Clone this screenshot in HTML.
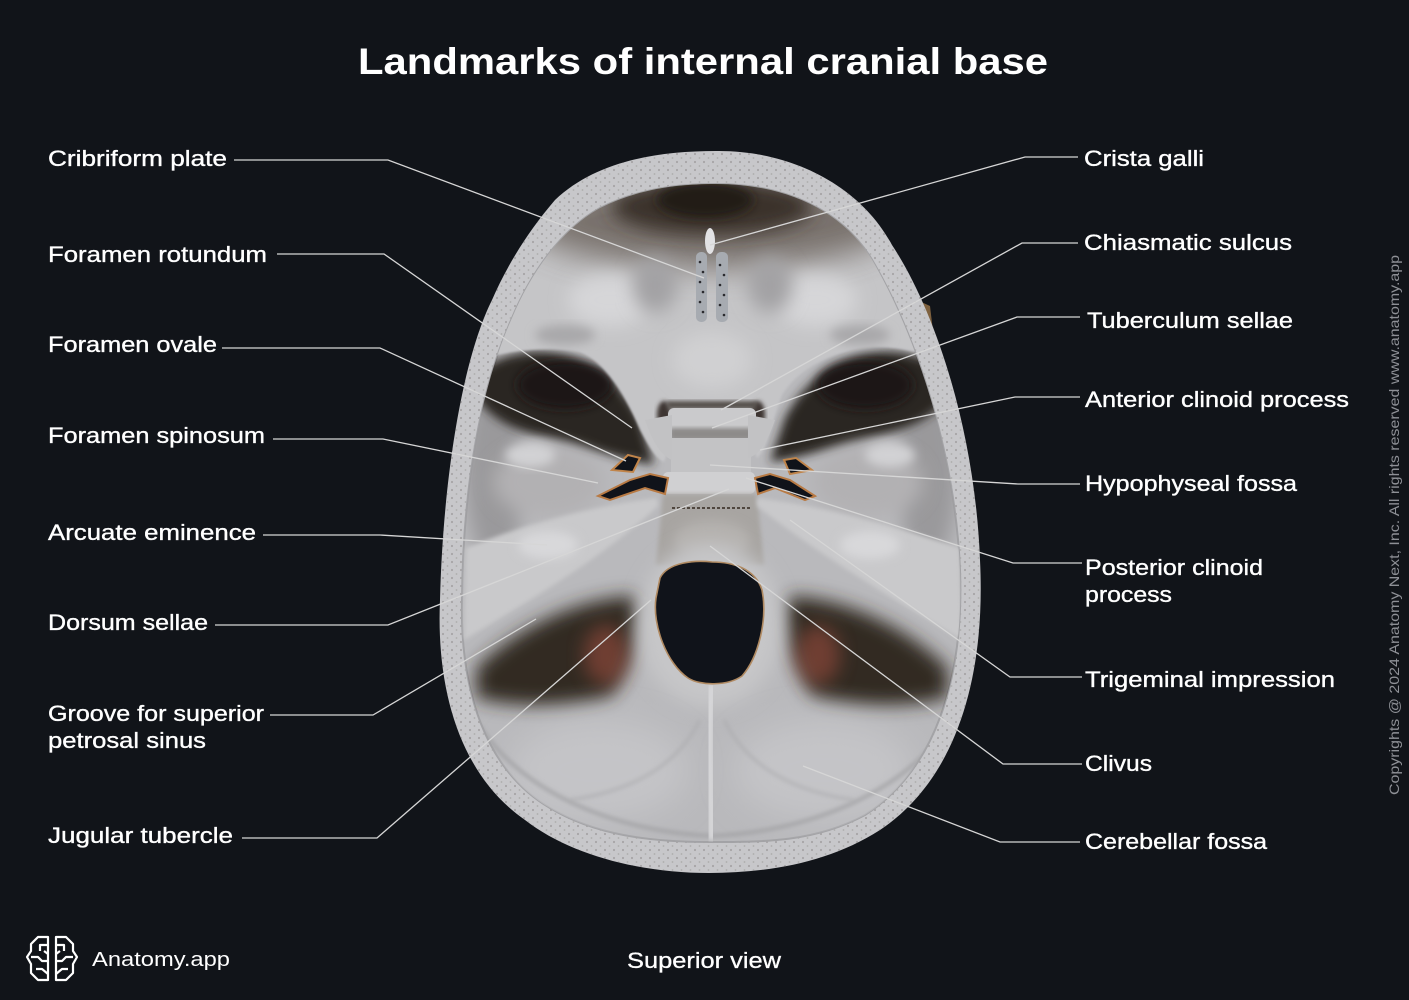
<!DOCTYPE html>
<html><head><meta charset="utf-8"><style>
html,body{margin:0;padding:0;background:#111419;}
svg{display:block;}
text{font-family:"Liberation Sans","DejaVu Sans",sans-serif;}
</style></head><body>
<svg width="1409" height="1000" viewBox="0 0 1409 1000" xmlns="http://www.w3.org/2000/svg">
<defs>
<filter id="b1" x="-20%" y="-20%" width="140%" height="140%"><feGaussianBlur stdDeviation="1"/></filter>
<filter id="b2" x="-20%" y="-20%" width="140%" height="140%"><feGaussianBlur stdDeviation="2"/></filter>
<filter id="b5" x="-30%" y="-30%" width="160%" height="160%"><feGaussianBlur stdDeviation="5"/></filter>
<filter id="b9" x="-40%" y="-40%" width="180%" height="180%"><feGaussianBlur stdDeviation="9"/></filter>
<filter id="b16" x="-50%" y="-50%" width="200%" height="200%"><feGaussianBlur stdDeviation="16"/></filter>
<pattern id="dots" width="9" height="8" patternUnits="userSpaceOnUse"><circle cx="2" cy="2" r="1.1" fill="#7f7b79"/><circle cx="6.5" cy="6" r="0.9" fill="#8e8a88"/></pattern>
<clipPath id="cav"><path d="M716 184 C785 184,845 210,875 265 C915 335,955 450,960 570 C964 680,935 770,865 815 C815 842,765 842,709 842 C650 842,595 835,550 808 C485 770,460 690,462 600 C463 480,482 385,512 318 C530 275,560 230,600 208 C640 188,680 184,716 184 Z"/></clipPath>
</defs>
<rect width="1409" height="1000" fill="#111419"/>

<!-- title -->
<text x="358" y="74" font-size="37" font-weight="bold" fill="#ffffff" textLength="690" lengthAdjust="spacingAndGlyphs">Landmarks of internal cranial base</text>

<!-- orange bits outside skull -->
<path d="M484 330 L496 322 L500 372 L490 460 L482 455 Z" fill="#8a6a48" opacity="0.8"/>
<path d="M917 300 L930 306 L946 440 L937 445 Z" fill="#9a7448" opacity="0.8"/>

<!-- skull outer -->
<path id="outer" d="M716 151 C790 150,860 185,892 245 C935 310,975 430,980 560 C986 680,955 780,880 830 C830 862,770 873,709 873 C640 873,570 855,525 820 C460 775,436 690,440 600 C443 480,462 360,492 300 C505 270,525 235,555 200 C595 162,655 151,716 151 Z" fill="#c7c7ca"/>
<path d="M716 151 C790 150,860 185,892 245 C935 310,975 430,980 560 C986 680,955 780,880 830 C830 862,770 873,709 873 C640 873,570 855,525 820 C460 775,436 690,440 600 C443 480,462 360,492 300 C505 270,525 235,555 200 C595 162,655 151,716 151 Z" fill="url(#dots)" opacity="0.45"/>
<!-- inner cavity base -->
<path d="M716 184 C785 184,845 210,875 265 C915 335,955 450,960 570 C964 680,935 770,865 815 C815 842,765 842,709 842 C650 842,595 835,550 808 C485 770,460 690,462 600 C463 480,482 385,512 318 C530 275,560 230,600 208 C640 188,680 184,716 184 Z" fill="#b9b9bc" stroke="#a3a3a6" stroke-width="2"/>

<g clip-path="url(#cav)">
  <!-- middle fossa side gray -->
  <ellipse cx="495" cy="470" rx="30" ry="95" fill="#9a999b" filter="url(#b9)"/>
  <ellipse cx="928" cy="470" rx="30" ry="95" fill="#9a999b" filter="url(#b9)"/>
  <!-- middle fossa darks -->
  <path d="M478 372 C520 338,600 342,640 418 L654 465 C615 458,580 445,540 436 C505 428,485 412,476 396 Z" fill="#2c2520" filter="url(#b5)"/>
  <ellipse cx="565" cy="385" rx="48" ry="24" fill="#1f1915" filter="url(#b5)"/>
  <path d="M947 372 C905 338,825 342,785 418 L770 462 C810 456,845 443,885 434 C920 426,940 410,949 395 Z" fill="#2c2520" filter="url(#b5)"/>
  <ellipse cx="865" cy="385" rx="48" ry="24" fill="#1f1915" filter="url(#b5)"/>
  <!-- middle fossa floors -->
  <ellipse cx="548" cy="482" rx="55" ry="35" fill="#b2b1b3" filter="url(#b9)"/>
  <ellipse cx="868" cy="482" rx="55" ry="35" fill="#b2b1b3" filter="url(#b9)"/>
  <ellipse cx="530" cy="455" rx="25" ry="12" fill="#d2d2d4" filter="url(#b5)"/>
  <ellipse cx="890" cy="455" rx="25" ry="12" fill="#d2d2d4" filter="url(#b5)"/>

  <!-- anterior fossa floor -->
  <path d="M455 395 L470 362 C500 352,545 345,580 352 C605 362,625 395,640 430 C648 445,655 458,664 462 C670 450,666 430,670 412 C690 405,735 405,754 412 C758 430,752 450,757 458 C767 450,772 420,782 395 C797 370,832 350,872 347 C902 346,927 355,955 365 L960 150 L455 150 Z" fill="#c5c5c7" filter="url(#b1)"/>
  <!-- top dark -->
  <ellipse cx="712" cy="222" rx="185" ry="45" fill="#6a625b" filter="url(#b16)" opacity="0.85"/>
  <ellipse cx="712" cy="207" rx="100" ry="28" fill="#3a322c" filter="url(#b9)"/>
  <ellipse cx="705" cy="200" rx="48" ry="18" fill="#231d19" filter="url(#b5)"/>
  <!-- orbital bumps -->
  <ellipse cx="610" cy="300" rx="42" ry="26" fill="#d6d6d8" filter="url(#b9)"/>
  <ellipse cx="815" cy="300" rx="42" ry="26" fill="#d6d6d8" filter="url(#b9)"/>
  <ellipse cx="655" cy="285" rx="22" ry="28" fill="#a3a2a4" filter="url(#b9)"/>
  <ellipse cx="770" cy="285" rx="22" ry="28" fill="#a3a2a4" filter="url(#b9)"/>
  <ellipse cx="565" cy="335" rx="30" ry="10" fill="#a9a8aa" filter="url(#b5)"/>
  <ellipse cx="860" cy="335" rx="30" ry="10" fill="#a9a8aa" filter="url(#b5)"/>
  <ellipse cx="712" cy="360" rx="40" ry="28" fill="#d0d0d2" filter="url(#b9)"/>
  <!-- crista galli -->
  <ellipse cx="710" cy="241" rx="5" ry="13" fill="#e2e2e4"/>
  <!-- cribriform -->
  <rect x="696" y="252" width="11" height="70" rx="5" fill="#a7abb1"/>
  <rect x="716" y="252" width="12" height="70" rx="5" fill="#a7abb1"/>
  <g fill="#2a2a2e">
    <circle cx="700" cy="262" r="1.3"/><circle cx="703" cy="272" r="1.3"/><circle cx="700" cy="282" r="1.3"/><circle cx="703" cy="292" r="1.3"/><circle cx="700" cy="302" r="1.3"/><circle cx="703" cy="312" r="1.3"/>
    <circle cx="720" cy="265" r="1.3"/><circle cx="724" cy="275" r="1.3"/><circle cx="720" cy="285" r="1.3"/><circle cx="724" cy="295" r="1.3"/><circle cx="720" cy="305" r="1.3"/><circle cx="724" cy="315" r="1.3"/>
  </g>

  <!-- sella -->
  <ellipse cx="664" cy="415" rx="7" ry="14" fill="#3e3631" filter="url(#b2)"/>
  <ellipse cx="758" cy="415" rx="7" ry="14" fill="#3e3631" filter="url(#b2)"/>
  <rect x="667" y="401" width="90" height="8" fill="#55504c" filter="url(#b2)"/>
  <rect x="668" y="408" width="88" height="22" rx="6" fill="#cacacc"/>
  <rect x="670" y="428" width="82" height="12" fill="#8d8b8a" filter="url(#b2)"/>
  <rect x="671" y="438" width="80" height="36" fill="#c3c3c5"/>
  <rect x="663" y="472" width="92" height="22" rx="5" fill="#d0d0d2"/>
  <!-- anterior clinoids -->
  <path d="M645 420 C652 440,660 455,672 460 L672 415 Z" fill="#c2c2c4"/>
  <path d="M775 420 C768 440,760 455,748 458 L748 415 Z" fill="#c2c2c4"/>
  <!-- clivus -->
  <path d="M663 494 L757 494 L764 565 L656 565 Z" fill="#a8a5a2" filter="url(#b2)"/>
  <path d="M672 508 L750 508" stroke="#4f463e" stroke-width="2" stroke-dasharray="3 2"/>
  <ellipse cx="712" cy="540" rx="38" ry="20" fill="#b4b1ae" filter="url(#b5)"/>

  <!-- foramina -->
  <path d="M612 470 L628 455 L640 458 L633 472 Z" fill="#10131a" stroke="#c0844a" stroke-width="2"/>
  <path d="M598 496 L630 480 L650 474 L668 478 L665 494 L645 488 L610 500 Z" fill="#10131a" stroke="#b87a44" stroke-width="2"/>
  <path d="M812 470 L796 458 L784 460 L790 474 Z" fill="#10131a" stroke="#c0844a" stroke-width="2"/>
  <path d="M815 496 L790 480 L770 474 L755 478 L758 494 L775 488 L805 500 Z" fill="#10131a" stroke="#b87a44" stroke-width="2"/>

  <!-- petrous parts -->
  <path d="M657 498 C600 505,530 522,466 548 L464 640 C530 600,600 560,658 506 Z" fill="#c9c9cb" filter="url(#b2)"/>
  <path d="M757 498 C814 505,884 522,960 548 L962 640 C896 600,826 560,757 506 Z" fill="#c9c9cb" filter="url(#b2)"/>
  <ellipse cx="548" cy="545" rx="30" ry="14" fill="#d8d8da" filter="url(#b5)"/>
  <ellipse cx="870" cy="545" rx="30" ry="14" fill="#d8d8da" filter="url(#b5)"/>

  <!-- posterior dark bands -->
  <path d="M476 668 C520 625,580 598,634 596 C644 620,634 662,612 696 C570 708,520 708,476 698 Z" fill="#302924" filter="url(#b9)"/>
  <path d="M948 668 C904 625,844 598,790 596 C780 620,790 662,812 696 C854 708,904 708,948 698 Z" fill="#302924" filter="url(#b9)"/>
  <ellipse cx="606" cy="655" rx="22" ry="30" fill="#a3503f" opacity="0.55" filter="url(#b9)"/>
  <ellipse cx="818" cy="655" rx="22" ry="30" fill="#a3503f" opacity="0.55" filter="url(#b9)"/>

  <!-- area around foramen magnum -->
  <ellipse cx="710" cy="625" rx="72" ry="82" fill="#c6c6c8" filter="url(#b9)"/>
  <!-- bowls -->
  <ellipse cx="598" cy="770" rx="90" ry="50" fill="#c4c4c7" filter="url(#b16)"/>
  <ellipse cx="824" cy="770" rx="90" ry="50" fill="#c4c4c7" filter="url(#b16)"/>
  <path d="M476 720 C520 795,620 832,712 836 C805 832,905 795,952 720" fill="none" stroke="#a0a0a3" stroke-width="3" filter="url(#b2)"/>
  <path d="M712 685 C706 740,712 800,712 840" fill="none" stroke="#d6d6d8" stroke-width="9" filter="url(#b2)"/>
  <path d="M700 720 C680 760,640 790,570 800" fill="none" stroke="#aaaaad" stroke-width="2" filter="url(#b2)"/>
  <path d="M724 720 C744 760,784 790,854 800" fill="none" stroke="#aaaaad" stroke-width="2" filter="url(#b2)"/>

  <!-- foramen magnum -->
  <path d="M660 578 C668 562,695 560,712 562 C732 562,755 568,762 590 C768 620,758 658,742 676 C728 686,700 686,688 678 C667 664,652 625,656 598 Z" fill="#10131a" stroke="#b08a62" stroke-width="1.6"/>
</g>

<!-- leader lines -->
<g fill="none" stroke="#d6d6d6" stroke-width="1.3">
  <polyline points="234,160 388,160 704,278"/>
  <polyline points="277,254 384,254 632,428"/>
  <polyline points="222,348 380,348 626,461"/>
  <polyline points="273,439 383,439 598,483"/>
  <polyline points="263,535 380,535 547,545"/>
  <polyline points="215,625 388,625 729,489"/>
  <polyline points="270,715 373,715 536,619"/>
  <polyline points="242,838 377,838 651,600"/>
  <polyline points="1078,157 1025,157 710,245"/>
  <polyline points="1078,243 1022,243 721,410"/>
  <polyline points="1080,317 1017,317 712,428"/>
  <polyline points="1080,397 1015,397 760,450"/>
  <polyline points="1080,484 1018,484 710,465"/>
  <polyline points="1082,563 1013,563 746,478"/>
  <polyline points="1082,677 1010,677 790,520"/>
  <polyline points="1082,764 1003,764 710,546"/>
  <polyline points="1080,842 1000,842 803,766"/>
</g>

<!-- labels -->
<g font-size="22" fill="#ffffff" stroke="#ffffff" stroke-width="0.35">
  <text x="48" y="166" textLength="179" lengthAdjust="spacingAndGlyphs">Cribriform plate</text>
  <text x="48" y="262" textLength="219" lengthAdjust="spacingAndGlyphs">Foramen rotundum</text>
  <text x="48" y="352" textLength="169" lengthAdjust="spacingAndGlyphs">Foramen ovale</text>
  <text x="48" y="443" textLength="217" lengthAdjust="spacingAndGlyphs">Foramen spinosum</text>
  <text x="48" y="540" textLength="208" lengthAdjust="spacingAndGlyphs">Arcuate eminence</text>
  <text x="48" y="630" textLength="160" lengthAdjust="spacingAndGlyphs">Dorsum sellae</text>
  <text x="48" y="721" textLength="216" lengthAdjust="spacingAndGlyphs">Groove for superior</text>
  <text x="48" y="748" textLength="158" lengthAdjust="spacingAndGlyphs">petrosal sinus</text>
  <text x="48" y="843" textLength="185" lengthAdjust="spacingAndGlyphs">Jugular tubercle</text>
  <text x="1084" y="166" textLength="120" lengthAdjust="spacingAndGlyphs">Crista galli</text>
  <text x="1084" y="250" textLength="208" lengthAdjust="spacingAndGlyphs">Chiasmatic sulcus</text>
  <text x="1087" y="328" textLength="206" lengthAdjust="spacingAndGlyphs">Tuberculum sellae</text>
  <text x="1085" y="407" textLength="264" lengthAdjust="spacingAndGlyphs">Anterior clinoid process</text>
  <text x="1085" y="491" textLength="212" lengthAdjust="spacingAndGlyphs">Hypophyseal fossa</text>
  <text x="1085" y="575" textLength="178" lengthAdjust="spacingAndGlyphs">Posterior clinoid</text>
  <text x="1085" y="602" textLength="87" lengthAdjust="spacingAndGlyphs">process</text>
  <text x="1085" y="687" textLength="250" lengthAdjust="spacingAndGlyphs">Trigeminal impression</text>
  <text x="1085" y="771" textLength="67" lengthAdjust="spacingAndGlyphs">Clivus</text>
  <text x="1085" y="849" textLength="182" lengthAdjust="spacingAndGlyphs">Cerebellar fossa</text>
</g>

<!-- footer -->
<text x="627" y="968" font-size="22" fill="#ffffff" stroke="#ffffff" stroke-width="0.3" textLength="154" lengthAdjust="spacingAndGlyphs">Superior view</text>
<text x="92" y="966" font-size="20" fill="#ffffff" textLength="138" lengthAdjust="spacingAndGlyphs">Anatomy.app</text>
<g fill="none" stroke="#ffffff" stroke-width="2.2" stroke-linejoin="round">
  <path d="M48 937 L38 937 L31 944 L31 951 L27 957 L31 964 L31 973 L38 980 L48 980 Z"/>
  <path d="M56 937 L66 937 L73 944 L73 951 L77 957 L73 964 L73 973 L66 980 L56 980 Z"/>
  <path d="M48 945 L40 945 L40 951 M31 957 L38 957 L42 961 L48 961 M36 969 L42 969 L48 974 M44 951 L48 954"/>
  <path d="M56 945 L64 945 L64 951 M73 957 L66 957 L62 961 L56 961 M68 969 L62 969 L56 974 M60 951 L56 954"/>
</g>
<text transform="translate(1399,795) rotate(-90)" font-size="14" fill="#8e9096" textLength="540" lengthAdjust="spacingAndGlyphs">Copyrights @ 2024 Anatomy Next, Inc. All rights reserved www.anatomy.app</text>
</svg>
</body></html>
